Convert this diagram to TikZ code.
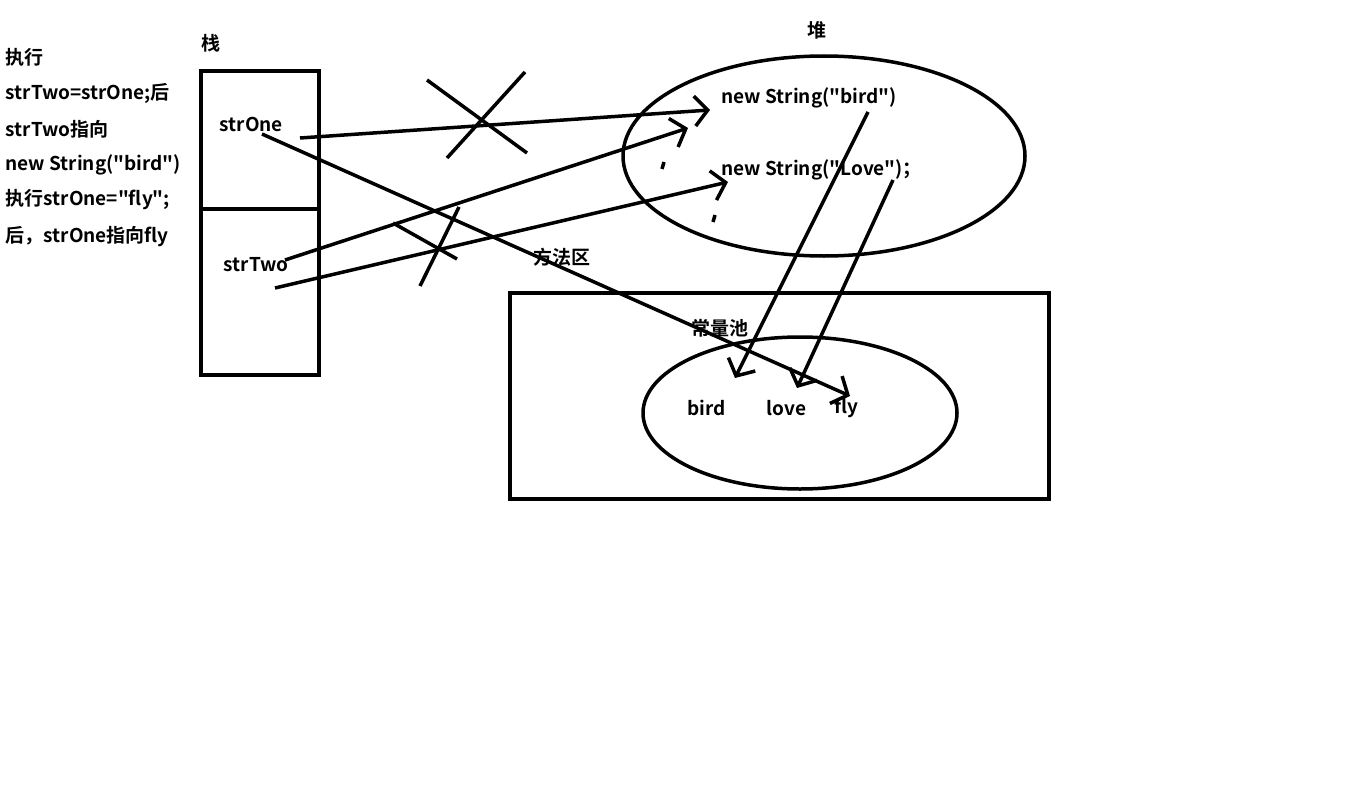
\documentclass[tikz,border=0pt]{standalone}
\usepackage{fontspec}
\newfontfamily\mf{Noto Sans CJK SC}[BoldFont={* Bold}]
\usetikzlibrary{arrows.meta}
\begin{document}
\begin{tikzpicture}[x=1pt,y=-1pt,line width=3.5pt,
  txt/.style={font=\mf\bfseries\fontsize{19}{21}\selectfont,inner sep=0,anchor=west},
  arr/.style={-{Straight Barb[length=13pt,width=30pt,line width=3.5pt]}}]
\useasboundingbox (0,0) rectangle (1346,800);
% left text
\node[txt] (t1) at (4,57) {执行};
\node[txt] (t2) at (4,93) {strTwo=strOne;后};
\node[txt] (t3) at (4,129) {strTwo指向};
\node[txt] (t4) at (4,165) {new String("bird")};
\node[txt] (t5) at (4,200) {执行strOne="fly";};
\node[txt] (t6) at (4,237) {后，strOne指向fly};
% stack
\node[txt] (zhan) at (200,43) {栈};
\draw (201,71) rectangle (319,375);
\draw (201,209) -- (321,209);
\node[txt] (s1) at (218,124) {strOne};
\node[txt] (s2) at (222,265) {strTwo};
% heap
\node[txt] (dui) at (806,30) {堆};
\draw (824,156) ellipse [x radius=201,y radius=100];
\node[txt] (h1) at (720,98) {new String("bird")};
\node[txt] (h2) at (720,170) {new String("Love")；};
% method area
\node[txt] (ff) at (532,257) {方法区};
\draw (510,293) rectangle (1049,499);
\node[txt] (cl) at (690,328) {常量池};
\draw (800,413) ellipse [x radius=157,y radius=76];
\node[txt] (bird) at (686,408) {bird};
\node[txt] (love) at (765,408) {love};
\node[txt] (fly) at (833,408) {fly};
% arrows
\coordinate (a1) at (300,138); \coordinate (b1) at (710,110);
\draw[arr] (a1) -- (b1);
\coordinate (a2) at (285,260); \coordinate (b2) at (688,128);
\draw[arr] (a2) -- (b2);
\coordinate (a3) at (275,288); \coordinate (b3) at (728,182);
\draw[arr] (a3) -- (b3);
\coordinate (a4) at (262,134); \coordinate (b4) at (850,396);
\draw[arr] (a4) -- (b4);
\coordinate (a5) at (868,112); \coordinate (b5) at (735,378);
\draw[arr] (a5) -- (b5);
\coordinate (a6) at (893,180); \coordinate (b6) at (797,388);
\draw[arr] (a6) -- (b6);
% crosses
\draw (427,80) -- (527,153);
\draw (447,158) -- (525,72);
\draw (393,223) -- (457,259);
\draw (459,207) -- (420,286);
% stray marks
\draw (664,162) -- (662,169);
\draw (715,215) -- (713,222);
\end{tikzpicture}
\end{document}
